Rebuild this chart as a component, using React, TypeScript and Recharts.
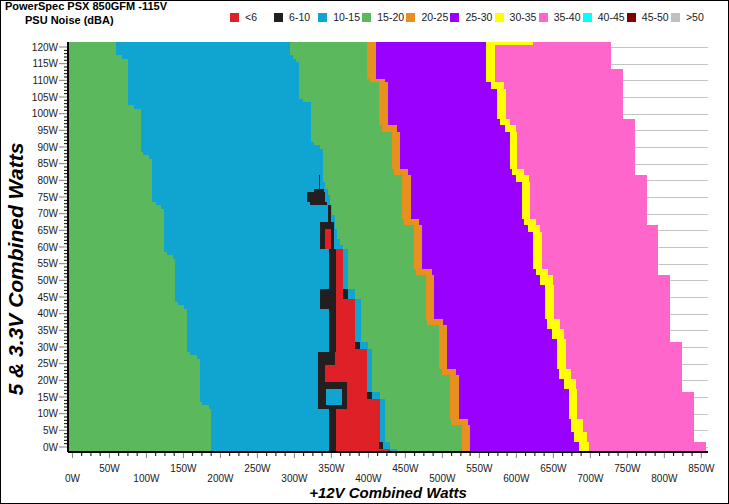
import { Bar, BarChart, Label, Legend, XAxis, YAxis } from "recharts"

type Step = [number, number | null]

const LEVELS = ["<6", "6-10", "10-15", "15-20", "20-25", "25-30", "30-35", "35-40", "40-45", "45-50", ">50"]
const LEVEL_COLORS = ["#dd2127", "#231f20", "#0fa5d0", "#5cb85c", "#e8901f", "#9900ff", "#ffff00", "#ff66cc", "#00ffff", "#800000", "#c0c0c0"]

const X_LABELS = [0, 50, 100, 150, 200, 250, 300, 350, 400, 450, 500, 550, 600, 650, 700, 750, 800, 850]
const Y_LABELS = [0, 5, 10, 15, 20, 25, 30, 35, 40, 45, 50, 55, 60, 65, 70, 75, 80, 85, 90, 95, 100, 105, 110, 115, 120]

// boundaries: [5 & 3.3V watts from which it applies, +12V watts where the colour changes]
const GREEN_BLUE: Step[] = [[-1, 187], [12, 184], [13, 175], [14, 172], [27, 168], [28, 159], [29, 155], [42, 151], [43, 142], [44, 139], [57, 136], [58, 128], [59, 124], [72, 120], [73, 113], [74, 108], [87, 104], [88, 96], [89, 92], [102, 83], [103, 75], [117, 67], [118, 59]]
const CORE_START: Step[] = [[-1, 347], [12, 332], [29, 347], [42, 334], [48, 347], [60, 334], [68, 346], [73, 321], [74, 317], [77, 327], [78, 333], [82, null]]
const HOLE_START: Step[] = [[13, 343], [18, null]]
const HOLE_END: Step[] = [[13, 364], [18, null]]
const RED_START: Step[] = [[-1, 356], [12, 371], [20, 341], [25, 355], [29, 356], [60, 341], [66, 353], [68, 349], [73, 344], [74, 342], [77, 340], [78, 335], [82, null]]
const RED_END: Step[] = [[-1, 429], [0, 415], [2, 416], [15, 398], [30, 382], [45, 366], [60, 349], [66, null]]
const NOTCH_END: Step[] = [[-1, 429], [0, 420], [2, 416], [15, 405], [17, 398], [30, 389], [32, 382], [45, 373], [48, 366], [60, 353], [66, null]]
const BLUE_GREEN: Step[] = [[-1, 438], [0, 429], [2, 423], [15, 416], [17, 405], [30, 399], [32, 390], [45, 382], [48, 373], [60, 366], [61, 362], [63, 357], [66, 355], [70, 351], [73, 348], [76, 345], [78, 342], [80, 338], [90, 334], [91, 327], [92, 322], [104, 311], [105, 306], [116, 302], [117, 298], [118, 294]]
const GREEN_ORANGE: Step[] = [[-1, 526], [7, 511], [9, 510], [22, 499], [24, 495], [37, 479], [39, 478], [52, 465], [54, 462], [67, 448], [69, 446], [82, 434], [84, 432], [95, 418], [97, 415], [110, 402], [111, 398]]
const ORANGE_PURPLE: Step[] = [[-1, 538], [7, 534], [9, 522], [22, 519], [24, 506], [37, 501], [39, 489], [52, 486], [54, 473], [67, 469], [69, 457], [82, 454], [84, 443], [95, 438], [97, 426], [110, 422], [111, 410]]
const PURPLE_YELLOW: Step[] = [[-1, 685], [2, 678], [5, 674], [9, 671], [18, 664], [21, 658], [24, 655], [33, 648], [36, 642], [39, 639], [49, 632], [52, 626], [54, 622], [65, 616], [67, 610], [69, 607], [80, 600], [82, 594], [84, 591], [95, 585], [97, 578], [99, 574], [108, 566], [110, 559]]
const YELLOW_PINK: Step[] = [[-1, 698], [2, 696], [5, 690], [9, 682], [18, 680], [21, 674], [24, 667], [33, 665], [36, 659], [39, 651], [49, 649], [52, 643], [54, 634], [65, 632], [67, 626], [69, 619], [80, 617], [82, 610], [84, 601], [95, 599], [97, 592], [99, 586], [108, 583], [110, 571], [121, 622]]
const PINK_END: Step[] = [[-1, 856], [2, 840], [17, 824], [32, 808], [52, 792], [67, 776], [82, 760], [99, 744], [114, 728]]

const X_MIN = -6
const X_MAX = 859
const ROW_MIN = -1
const ROW_MAX = 121
const PLOT_HEIGHT = 410
const FONT = '"Liberation Sans", Arial, sans-serif'

const [RED, BLACK, BLUE, GREEN, ORANGE, PURPLE, YELLOW, PINK] = LEVEL_COLORS

const SEGMENTS = [
  { key: "pad", color: GREEN },
  { key: "greenA", color: GREEN },
  { key: "blueA", color: BLUE },
  { key: "blackA", color: BLACK },
  { key: "hole", color: BLUE },
  { key: "blackB", color: BLACK },
  { key: "red", color: RED },
  { key: "blackC", color: BLACK },
  { key: "blueB", color: BLUE },
  { key: "greenB", color: GREEN },
  { key: "orange", color: ORANGE },
  { key: "purple", color: PURPLE },
  { key: "yellow", color: YELLOW },
  { key: "pink", color: PINK },
]

function valueAt(steps: Step[], w: number): number | null {
  let v: number | null = null
  for (const [from, x] of steps) if (w >= from) v = x
  return v
}

const rows: Record<string, number>[] = []
for (let w = ROW_MIN; w <= ROW_MAX; w++) {
  const bg = valueAt(BLUE_GREEN, w) as number
  const core = valueAt(CORE_START, w)
  const k1 = core ?? bg
  const h1 = valueAt(HOLE_START, w) ?? k1
  const h2 = valueAt(HOLE_END, w) ?? h1
  const r1 = core == null ? bg : valueAt(RED_START, w) ?? bg
  const r2 = valueAt(RED_END, w) ?? r1
  const c2 = valueAt(NOTCH_END, w) ?? r2
  const edges = [
    X_MIN,
    valueAt(GREEN_BLUE, w) as number,
    k1, h1, h2, r1, r2, c2, bg,
    valueAt(GREEN_ORANGE, w) as number,
    valueAt(ORANGE_PURPLE, w) as number,
    valueAt(PURPLE_YELLOW, w) as number,
    valueAt(YELLOW_PINK, w) as number,
    valueAt(PINK_END, w) as number,
  ]
  const row: Record<string, number> = { w, pad: X_MIN }
  let prev = X_MIN
  SEGMENTS.slice(1).forEach((s, i) => {
    const e = Math.max(edges[i + 1], prev)
    row[s.key] = e - prev
    prev = e
  })
  row.rest = X_MAX - prev
  rows.push(row)
}

const X_TICKS: number[] = []
for (let v = 0; v <= 850; v += 12.5) X_TICKS.push(v)
const Y_TICKS: number[] = []
for (let v = 0; v <= 120; v++) Y_TICKS.push(v)

function XTick({ x, y, payload }: any) {
  const v = payload.value
  if (!X_LABELS.includes(v)) return <line x1={x} x2={x} y1={y + 1} y2={y + 4} stroke="#000" />
  const low = (v / 50) % 2 === 0
  return (
    <g>
      <line x1={x} x2={x} y1={y + 1} y2={y + 6} stroke="#808080" />
      <text x={x} y={y + (low ? 30 : 19.5)} textAnchor="middle" fontSize={10} fontFamily={FONT} fill="#1a1a1a">
        {v}W
      </text>
    </g>
  )
}

function YTick({ x, y, payload }: any) {
  const v = payload.value
  if (!Y_LABELS.includes(v)) return <line x1={x - 4} x2={x - 1} y1={y} y2={y} stroke="#000" />
  return (
    <g>
      <line x1={x - 9} x2={x - 1} y1={y} y2={y} stroke="#808080" />
      <text x={x - 10} y={y} dy="0.35em" textAnchor="end" fontSize={10} fontFamily={FONT} fill="#1a1a1a">
        {v}W
      </text>
    </g>
  )
}

// empty part of a row: grid line only on the labelled rows
function RestShape({ x, y, width, height, payload }: any) {
  if (!Y_LABELS.includes(payload.w) || !(width > 0)) return <g />
  const cy = Math.round(y + height / 2) + 0.5
  return <line x1={x} x2={x + width} y1={cy} y2={cy} stroke="#c4c4c4" />
}

const XTitle = ({ viewBox }: any) => (
  <text x={viewBox.x + viewBox.width / 2} y={viewBox.y + 46} textAnchor="middle" fontSize={15} fontWeight="bold" fontStyle="italic" fontFamily={FONT} fill="#000">
    +12V Combined Watts
  </text>
)

const YTitle = ({ viewBox }: any) => {
  const cx = viewBox.x + 22.5
  const cy = viewBox.y + viewBox.height / 2 + 22
  return (
    <text x={cx} y={cy} transform={`rotate(-90 ${cx} ${cy})`} textAnchor="middle" fontSize={21} fontWeight="bold" fontStyle="italic" fontFamily={FONT} fill="#000">
      5 &amp; 3.3V Combined Watts
    </text>
  )
}

const NoiseLegend = () => (
  <div style={{ display: "flex", fontFamily: FONT, fontSize: 10.5, color: "#1a1a1a" }}>
    {LEVELS.map((label, i) => (
      <div key={label} style={{ width: 44.1, display: "flex", alignItems: "center" }}>
        <span style={{ width: 9, height: 9, background: LEVEL_COLORS[i], display: "inline-block" }} />
        <span style={{ marginLeft: 6 }}>{label}</span>
      </div>
    ))}
  </div>
)

export default function App() {
  return (
    <div style={{ position: "relative", width: 729, height: 504, background: "#fff" }}>
      <style>{"body{margin:0} .recharts-rectangle{shape-rendering:crispEdges}"}</style>
      <div style={{ position: "absolute", left: 5, top: 0, font: `bold 11px ${FONT}`, color: "#000", zIndex: 2 }}>PowerSpec PSX 850GFM -115V</div>
      <div style={{ position: "absolute", left: 25, top: 14, font: `bold 11px ${FONT}`, color: "#000", zIndex: 2 }}>PSU Noise (dBA)</div>
      <BarChart
        width={729}
        height={504}
        data={rows}
        layout="vertical"
        margin={{ top: 42, right: 21, bottom: 22, left: 0 }}
        barCategoryGap={0}
        barGap={0}
        barSize={PLOT_HEIGHT / (ROW_MAX - ROW_MIN + 1) - 0.001}
      >
        <XAxis type="number" domain={[X_MIN, X_MAX]} allowDataOverflow ticks={X_TICKS} interval={0} tickSize={0} tickMargin={0} tickLine={false} axisLine={{ stroke: "#000", strokeWidth: 2 }} tick={(p: any) => <XTick {...p} />} height={30}>
          <Label content={XTitle} />
        </XAxis>
        <YAxis type="number" dataKey="w" reversed domain={[ROW_MIN - 0.5, ROW_MAX + 0.5]} allowDataOverflow ticks={Y_TICKS} interval={0} tickSize={0} tickMargin={0} tickLine={false} axisLine={{ stroke: "#000", strokeWidth: 2 }} tick={(p: any) => <YTick {...p} />} width={68}>
          <Label content={YTitle} />
        </YAxis>
        <Legend layout="horizontal" verticalAlign="middle" align="center" content={NoiseLegend} wrapperStyle={{ top: 11, left: 230, width: 490, height: 12 }} />
        {SEGMENTS.map((s) => (
          <Bar key={s.key} dataKey={s.key} stackId="noise" fill={s.color} isAnimationActive={false} />
        ))}
        <Bar dataKey="rest" stackId="noise" fill="none" shape={(p: any) => <RestShape {...p} />} isAnimationActive={false} />
      </BarChart>
      <div style={{ position: "absolute", inset: 0, border: "1px solid #000", pointerEvents: "none" }} />
    </div>
  )
}
